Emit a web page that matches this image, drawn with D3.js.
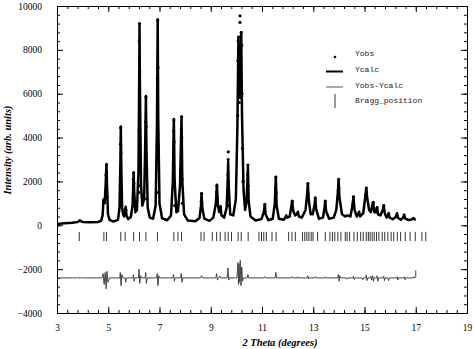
<!DOCTYPE html>
<html>
<head>
<meta charset="utf-8">
<script src="https://cdn.jsdelivr.net/npm/d3@7"></script>
<style>
  body { margin: 0; background: #fff; }
  svg { display: block; }
  .tick text { font-family: "Liberation Serif", serif; font-size: 9.5px; fill: #000; }
  .domain { stroke: #000; }
</style>
</head>
<body>
<div id="chart"></div>
<script>
// 2theta / intensity
var ycalc = [
  [3.00, 60], [3.30, 90], [3.60, 120], [3.80, 150], [3.86, 190], [3.89, 230], [3.93, 190], [4.00, 150],
  [4.30, 140], [4.60, 150], [4.72, 200], [4.78, 450], [4.81, 1100], [4.83, 1200], [4.86, 1000], [4.90, 1900],
  [4.93, 2800], [4.95, 1900], [4.99, 500], [5.05, 250], [5.20, 170], [5.38, 250], [5.44, 800], [5.475, 3000],
  [5.49, 4500], [5.505, 3000], [5.54, 800], [5.58, 500], [5.62, 400], [5.66, 700], [5.68, 850], [5.71, 450],
  [5.78, 280], [5.88, 380], [5.95, 900], [5.98, 2000], [5.99, 2350], [6.01, 1600], [6.06, 600], [6.12, 700],
  [6.18, 2500], [6.21, 7000], [6.22, 9150], [6.235, 6500], [6.28, 1800], [6.33, 900], [6.40, 1200], [6.44, 3500],
  [6.47, 5900], [6.49, 3500], [6.54, 800], [6.62, 350], [6.75, 300], [6.85, 900], [6.90, 4500], [6.93, 9400],
  [6.95, 5000], [7.00, 1000], [7.10, 320], [7.30, 230], [7.45, 450], [7.52, 2000], [7.56, 4850], [7.59, 2000],
  [7.66, 600], [7.72, 650], [7.80, 1800], [7.86, 4950], [7.89, 2000], [7.96, 500], [8.10, 220], [8.40, 180],
  [8.56, 330], [8.62, 900], [8.64, 1450], [8.67, 800], [8.75, 300], [8.95, 200], [9.10, 350], [9.20, 1000],
  [9.24, 1850], [9.28, 900], [9.33, 600], [9.38, 850], [9.42, 450], [9.52, 350], [9.62, 800], [9.66, 2000],
  [9.68, 2900], [9.70, 1800], [9.76, 500], [9.88, 450], [9.98, 1200], [10.04, 4500], [10.08, 8600], [10.11, 6000],
  [10.15, 5800], [10.19, 8750], [10.22, 5000], [10.28, 1600], [10.34, 700], [10.40, 1100], [10.45, 2650], [10.48, 1100],
  [10.55, 400], [10.75, 220], [10.98, 280], [11.07, 600], [11.11, 950], [11.14, 500], [11.25, 230], [11.42, 300],
  [11.50, 1000], [11.54, 2200], [11.57, 900], [11.66, 300], [11.85, 250], [11.92, 380], [11.95, 450], [11.98, 350],
  [12.08, 400], [12.15, 900], [12.18, 1100], [12.22, 650], [12.30, 450], [12.37, 520], [12.40, 620], [12.44, 400],
  [12.55, 350], [12.70, 700], [12.76, 1400], [12.79, 1900], [12.82, 1200], [12.90, 500], [12.98, 500], [13.05, 950],
  [13.08, 1230], [13.11, 750], [13.22, 300], [13.38, 350], [13.44, 800], [13.47, 1100], [13.50, 650], [13.62, 300],
  [13.80, 350], [13.90, 700], [13.96, 1500], [13.99, 2080], [14.02, 1300], [14.12, 500], [14.25, 400], [14.32, 450],
  [14.45, 400], [14.53, 900], [14.57, 1300], [14.61, 700], [14.70, 400], [14.76, 550], [14.79, 620], [14.83, 400],
  [14.95, 550], [15.02, 1200], [15.07, 1700], [15.10, 1300], [15.18, 700], [15.25, 600], [15.31, 950], [15.34, 1050],
  [15.38, 600], [15.45, 600], [15.49, 820], [15.53, 500], [15.62, 450], [15.71, 700], [15.75, 900], [15.79, 550],
  [15.86, 350], [15.91, 450], [15.94, 560], [15.98, 350], [16.10, 280], [16.22, 380], [16.27, 550], [16.31, 330],
  [16.42, 250], [16.50, 350], [16.55, 490], [16.59, 300], [16.72, 240], [16.84, 260], [16.91, 330], [16.95, 280],
  [17.00, 250]
];

var yobs = [
  [4.82, 1150], [4.84, 1050], [4.91, 2300], [4.93, 2750], [4.94, 2400], [4.96, 1300],
  [5.47, 1800], [5.48, 3700], [5.49, 4450], [5.50, 3300], [5.51, 1500], [5.52, 900],
  [5.67, 750], [5.69, 700], [5.98, 2100], [5.99, 2400], [6.00, 1900], [6.02, 900],
  [6.19, 1500], [6.20, 4300], [6.21, 8400], [6.22, 9200], [6.23, 7000], [6.24, 3500], [6.25, 1800],
  [6.45, 2600], [6.46, 4700], [6.47, 5850], [6.48, 4500], [6.49, 2600], [6.50, 1200],
  [6.91, 3100], [6.92, 6700], [6.93, 9350], [6.94, 7200], [6.95, 3600], [6.96, 1500],
  [7.54, 2800], [7.55, 4300], [7.56, 4800], [7.57, 3800], [7.58, 2000], [7.59, 900],
  [7.84, 2500], [7.85, 4400], [7.86, 4950], [7.87, 4000], [7.88, 2100], [7.89, 1000],
  [8.63, 1100], [8.64, 1450], [8.65, 1000], [9.23, 1500], [9.24, 1800], [9.25, 1300], [9.38, 850],
  [9.67, 2300], [9.68, 3000], [9.685, 3350], [9.69, 2000], [9.71, 900],
  [10.05, 5000], [10.06, 7500], [10.07, 8400], [10.08, 8000], [10.09, 6500], [10.11, 5600],
  [10.13, 7500], [10.14, 9250], [10.145, 9550], [10.17, 8600], [10.19, 8800], [10.21, 8200],
  [10.22, 6000], [10.24, 3500], [10.26, 2000],
  [10.44, 2300], [10.45, 2750], [10.46, 1800], [11.11, 950], [11.53, 1700], [11.54, 2200], [11.55, 1500],
  [12.18, 1100], [12.78, 1500], [12.79, 1900], [12.80, 1400], [13.08, 1250], [13.47, 1100],
  [13.98, 1600], [13.99, 2100], [14.00, 1700], [14.56, 1000], [14.57, 1300],
  [15.06, 1400], [15.07, 1700], [15.08, 1500], [15.34, 1050], [15.49, 800], [15.75, 900]
];

// Yobs - Ycalc, drawn shifted by diffOffset
var diffOffset = -2400;
var ydiff = [
  [3.00, 0], [3.80, 0], [3.85, 40], [3.90, -40], [3.95, 30], [4.00, 0], [4.75, 0], [4.80, 200], [4.84, -300],
  [4.88, 250], [4.92, -500], [4.95, 300], [4.99, -200], [5.05, 0], [5.45, 0], [5.47, 250], [5.50, -350],
  [5.53, 150], [5.57, 0], [5.66, 0], [5.68, -200], [5.71, 0], [5.96, 0], [5.98, 150], [6.01, -150], [6.04, 0],
  [6.18, 0], [6.20, 400], [6.23, -250], [6.26, 100], [6.30, 0], [6.44, 0], [6.46, 250], [6.49, -250], [6.52, 0],
  [6.89, 0], [6.91, 200], [6.94, -350], [6.97, 100], [7.00, 0], [7.52, 0], [7.55, 150], [7.58, -150], [7.61, 0],
  [7.82, 0], [7.85, 200], [7.88, -200], [7.91, 0], [8.60, 0], [8.64, 100], [8.67, 0], [9.20, 0], [9.23, 200],
  [9.26, -100], [9.30, 0], [9.36, 80], [9.39, 0], [9.64, 0], [9.67, 450], [9.70, -100], [9.73, 0], [10.02, 0],
  [10.04, 300], [10.06, 700], [10.08, -300], [10.10, 650], [10.13, -200], [10.15, 800], [10.18, -350],
  [10.21, 500], [10.24, -150], [10.28, 0], [10.42, 0], [10.45, 150], [10.48, 0], [11.08, 0], [11.11, 60],
  [11.14, 0], [11.51, 0], [11.54, 250], [11.57, 0], [12.15, 0], [12.18, 60], [12.21, 0], [12.38, 0], [12.40, 50],
  [12.43, 0], [12.76, 0], [12.79, 100], [12.82, -50], [12.85, 0], [13.05, 0], [13.08, 60], [13.11, 0],
  [13.45, 0], [13.47, 50], [13.50, 0], [13.95, 0], [13.98, 150], [14.01, -150], [14.04, 100], [14.07, 0],
  [14.30, 0], [14.33, -60], [14.36, 0], [14.55, 0], [14.57, 80], [14.60, -80], [14.63, 0], [14.90, 0],
  [14.93, -80], [14.96, 0], [15.05, 0], [15.07, 120], [15.10, -120], [15.13, 0], [15.22, 0], [15.25, 80],
  [15.28, -100], [15.32, 100], [15.35, -150], [15.38, 0], [15.47, 0], [15.49, 100], [15.52, -150], [15.55, 0],
  [15.72, 0], [15.75, 80], [15.78, -130], [15.81, 0], [15.92, 0], [15.94, -120], [15.97, 0], [16.25, 0],
  [16.27, 60], [16.30, -100], [16.33, 0], [16.53, 0], [16.55, 50], [16.58, -80], [16.61, 0], [16.90, 0],
  [16.93, 60], [16.96, 0], [17.00, 50], [17.00, 350]
];

var bragg = [3.87, 4.83, 4.93, 5.49, 5.66, 5.99, 6.22, 6.47, 6.92, 7.56, 7.72, 7.86, 8.62, 8.74,
  9.06, 9.23, 9.37, 9.56, 9.68, 9.81, 10.07, 10.19, 10.46, 10.88, 10.98, 11.07, 11.17, 11.39, 11.55,
  12.04, 12.17, 12.30, 12.58, 12.67, 12.75, 12.83, 12.92, 12.99, 13.17, 13.47, 13.65, 13.75, 13.84,
  13.96, 14.08, 14.25, 14.32, 14.42, 14.59, 14.72, 14.85, 14.95, 15.07, 15.15, 15.22, 15.30, 15.38,
  15.47, 15.56, 15.69, 15.79, 15.91, 16.04, 16.14, 16.28, 16.41, 16.59, 16.78, 16.98, 17.24, 17.39];

var xTicks = [3, 5, 7, 9, 11, 13, 15, 17, 19];
var yTicks = [-4000, -2000, 0, 2000, 4000, 6000, 8000, 10000];
var legendItems = ["Yobs", "Ycalc", "Yobs-Ycalc", "Bragg_position"];

var W = 474, H = 349;
var pLeft = 57, pRight = 467, pTop = 6, pBottom = 313;

var svg = d3.select("#chart").append("svg")
  .attr("width", W)
  .attr("height", H);

var x = d3.scaleLinear().domain([3, 19]).range([pLeft, pRight]);
var y = d3.scaleLinear().domain([-4000, 10000]).range([pBottom, pTop]);

var xMinor = d3.range(3, 19.001, 0.4);
var yMinor = d3.range(-4000, 10001, 400);

// frame + ticks (all pointing inward)
function addAxis(axis, tx, ty, major) {
  var g = svg.append("g").attr("transform", "translate(" + tx + "," + ty + ")").call(axis);
  g.selectAll(".tick line").attr("stroke", "#000");
  if (!major) g.select(".domain").remove();
  return g;
}

addAxis(d3.axisBottom(x).tickValues(xMinor).tickSize(-3).tickFormat(""), 0, pBottom, false);
addAxis(d3.axisTop(x).tickValues(xMinor).tickSize(-3).tickFormat(""), 0, pTop, false);
addAxis(d3.axisLeft(y).tickValues(yMinor).tickSize(-3).tickFormat(""), pLeft, 0, false);
addAxis(d3.axisRight(y).tickValues(yMinor).tickSize(-3).tickFormat(""), pRight, 0, false);

addAxis(d3.axisBottom(x).tickValues(xTicks).tickSize(-6).tickPadding(11).tickFormat(d3.format("d")), 0, pBottom, true);
addAxis(d3.axisTop(x).tickValues(xTicks).tickSize(-6).tickFormat(""), 0, pTop, true);
addAxis(d3.axisLeft(y).tickValues(yTicks).tickSize(-6).tickPadding(15).tickFormat(d3.format("d")), pLeft, 0, true);
addAxis(d3.axisRight(y).tickValues(yTicks).tickSize(-6).tickFormat(""), pRight, 0, true);

// axis titles
svg.append("text")
  .attr("transform", "translate(11,150) rotate(-90)")
  .attr("text-anchor", "middle")
  .style("font-family", "Liberation Serif, serif")
  .style("font-size", "10.5px")
  .style("font-weight", "bold")
  .style("font-style", "italic")
  .text("Intensity (arb. units)");

svg.append("text")
  .attr("x", 280)
  .attr("y", 346)
  .attr("text-anchor", "middle")
  .style("font-family", "Liberation Serif, serif")
  .style("font-size", "10.5px")
  .style("font-weight", "bold")
  .style("font-style", "italic")
  .text("2 Theta (degrees)");

// bragg positions
svg.append("g").selectAll("line")
  .data(bragg)
  .enter().append("line")
  .attr("x1", function(d){ return x(d); })
  .attr("x2", function(d){ return x(d); })
  .attr("y1", y(-300))
  .attr("y2", y(-720))
  .attr("stroke", "#333")
  .attr("stroke-width", 1);

// difference curve
var diffLine = d3.line()
  .x(function(d){ return x(d[0]); })
  .y(function(d){ return y(d[1] + diffOffset); });

svg.append("path")
  .datum(ydiff)
  .attr("d", diffLine)
  .attr("fill", "none")
  .attr("stroke", "#444")
  .attr("stroke-width", 1);

// calculated profile
var calcLine = d3.line()
  .x(function(d){ return x(d[0]); })
  .y(function(d){ return y(d[1]); });

svg.append("path")
  .datum(ycalc)
  .attr("d", calcLine)
  .attr("fill", "none")
  .attr("stroke", "#000")
  .attr("stroke-width", 2.5)
  .attr("stroke-linejoin", "round");

// observed points
svg.append("g").selectAll("circle")
  .data(yobs)
  .enter().append("circle")
  .attr("cx", function(d){ return x(d[0]); })
  .attr("cy", function(d){ return y(d[1]); })
  .attr("r", 1.6)
  .attr("fill", "#000");

// legend
var lg = svg.append("g");
var lgY = [56, 72, 87.5, 103];
lg.selectAll("text")
  .data(legendItems)
  .enter().append("text")
  .attr("x", 355)
  .attr("y", function(d, i){ return lgY[i]; })
  .style("font-family", "Liberation Mono, monospace")
  .style("font-size", "8px")
  .style("fill", "#222")
  .text(function(d){ return d; });

lg.append("circle").attr("cx", 335).attr("cy", 57).attr("r", 1.3).attr("fill", "#000");
lg.append("line").attr("x1", 326).attr("x2", 343).attr("y1", 71.5).attr("y2", 71.5)
  .attr("stroke", "#000").attr("stroke-width", 2);
lg.append("line").attr("x1", 326).attr("x2", 343).attr("y1", 87).attr("y2", 87)
  .attr("stroke", "#555").attr("stroke-width", 1);
lg.append("line").attr("x1", 335).attr("x2", 335).attr("y1", 94).attr("y2", 108)
  .attr("stroke", "#333").attr("stroke-width", 1);
</script>
</body>
</html>
